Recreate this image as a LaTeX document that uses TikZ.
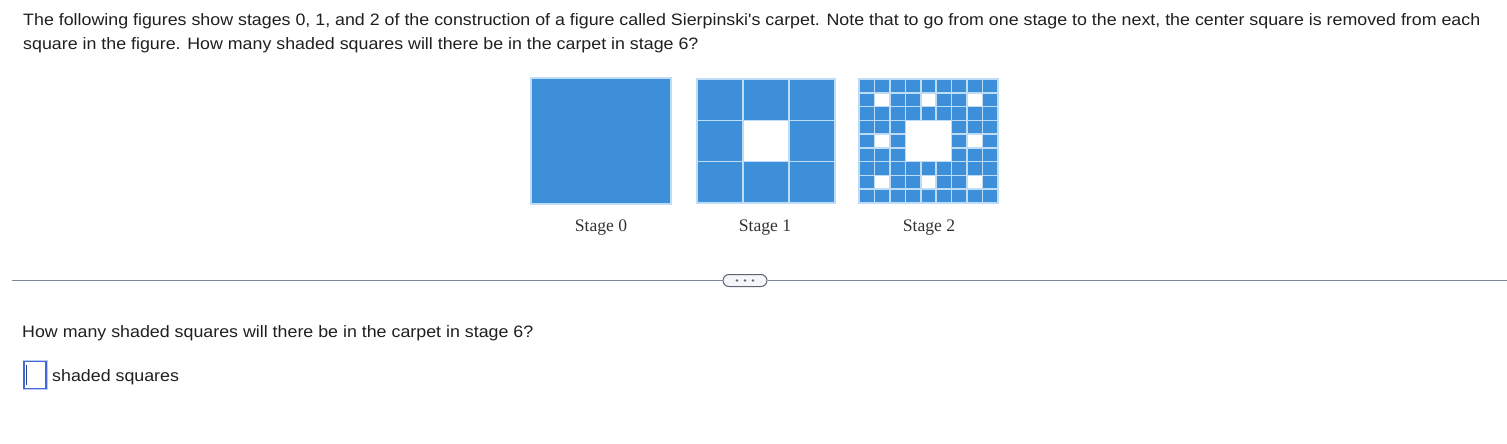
\documentclass[tikz,border=0pt]{standalone}
\usepackage{fontspec}
\setmainfont{Liberation Serif}
\newfontfamily\webfont{Liberation Sans}
\usetikzlibrary{math}

\definecolor{carpetblue}{RGB}{61,143,217}
\definecolor{cellline}{RGB}{190,220,245}
\definecolor{rulegray}{RGB}{128,136,156}
\definecolor{pillgray}{RGB}{92,100,116}
\definecolor{pillfill}{RGB}{244,246,249}
\definecolor{answerblue}{RGB}{66,104,222}

\begin{document}
\begin{tikzpicture}[x=1pt, y=-1pt]
\tikzstyle{cell}=[fill=carpetblue, draw=cellline, line width=1.2pt]
\tikzstyle{small cell}=[cell, line width=1.6pt]
\tikzstyle{question}=[font=\webfont\fontsize{16.5}{24}\selectfont, xscale=1.08, text=black!88, anchor=base west, inner sep=0pt]
\tikzstyle{stage label}=[font=\fontsize{17.6}{20}\selectfont, text=black!80, anchor=base, inner sep=0pt]
\tikzstyle{pill}=[rectangle, rounded corners=6pt, draw=pillgray, fill=pillfill, line width=1pt, minimum width=44pt, minimum height=12pt, inner sep=0pt]

\useasboundingbox (0,0) rectangle (1507,444);

% Question text
\node[question] (intro1) at (23,26) {The following figures show stages 0, 1, and 2 of the construction of a figure called Sierpinski's carpet. Note that to go from one stage to the next, the center square is removed from each};
\node[question] (intro2) at (23,50) {square in the figure. How many shaded squares will there be in the carpet in stage 6?};

% Stage 0
\path[cell] (531,78) rectangle (671,204);

% Stage 1
\tikzmath{
    \cwa = 138/3;
    \cha = 124/3;
}
\foreach \i in {0,...,2}
    \foreach \j in {0,...,2} {
        \tikzmath{
            integer \hole;
            \hole = and(\i==1, \j==1);
        }
        \ifnum\hole=0
            \path[cell] (697+\i*\cwa, 79+\j*\cha) rectangle (697+\i*\cwa+\cwa, 79+\j*\cha+\cha);
        \fi
    };

% Stage 2
\tikzmath{
    \cwb = 139/9;
    \chb = 124/9;
}
\foreach \i in {0,...,8}
    \foreach \j in {0,...,8} {
        \tikzmath{
            integer \hole;
            \hole = or(and(mod(\i,3)==1, mod(\j,3)==1), and(int(\i/3)==1, int(\j/3)==1));
        }
        \ifnum\hole=0
            \path[small cell] (859+\i*\cwb, 79+\j*\chb) rectangle (859+\i*\cwb+\cwb, 79+\j*\chb+\chb);
        \fi
    };

% Stage labels
\node[stage label] (stage0) at (601,231) {Stage 0};
\node[stage label] (stage1) at (765,231) {Stage 1};
\node[stage label] (stage2) at (929,231) {Stage 2};

% Divider with the pill
\coordinate (ruleL) at (12,280.5);
\coordinate (ruleR) at (1507,280.5);
\node[pill] (more) at (745,280.5) {};
\draw[rulegray, line width=1pt] (ruleL) -- (more) -- (ruleR);
\foreach \d in {-8,0,8}
    \fill[pillgray] (745+\d,280.5) circle (1.4pt);

% Answer part
\node[question] (ask) at (22,337) {How many shaded squares will there be in the carpet in stage 6?};
\node[rectangle, draw=answerblue!35, line width=3pt, minimum width=22pt, minimum height=27pt, inner sep=0pt] (answerglow) at (35,375) {};
\node[rectangle, draw=answerblue, line width=1.2pt, minimum width=22pt, minimum height=27pt, inner sep=0pt, fill=white] (answer) at (35,375) {};
\draw[answerblue!60!black, line width=0.8pt] ([xshift=3pt, yshift=-4pt]answer.north west) -- ([xshift=3pt, yshift=4pt]answer.south west);
\node[question] (unit) at (52,381) {shaded squares};

\end{tikzpicture}
\end{document}
